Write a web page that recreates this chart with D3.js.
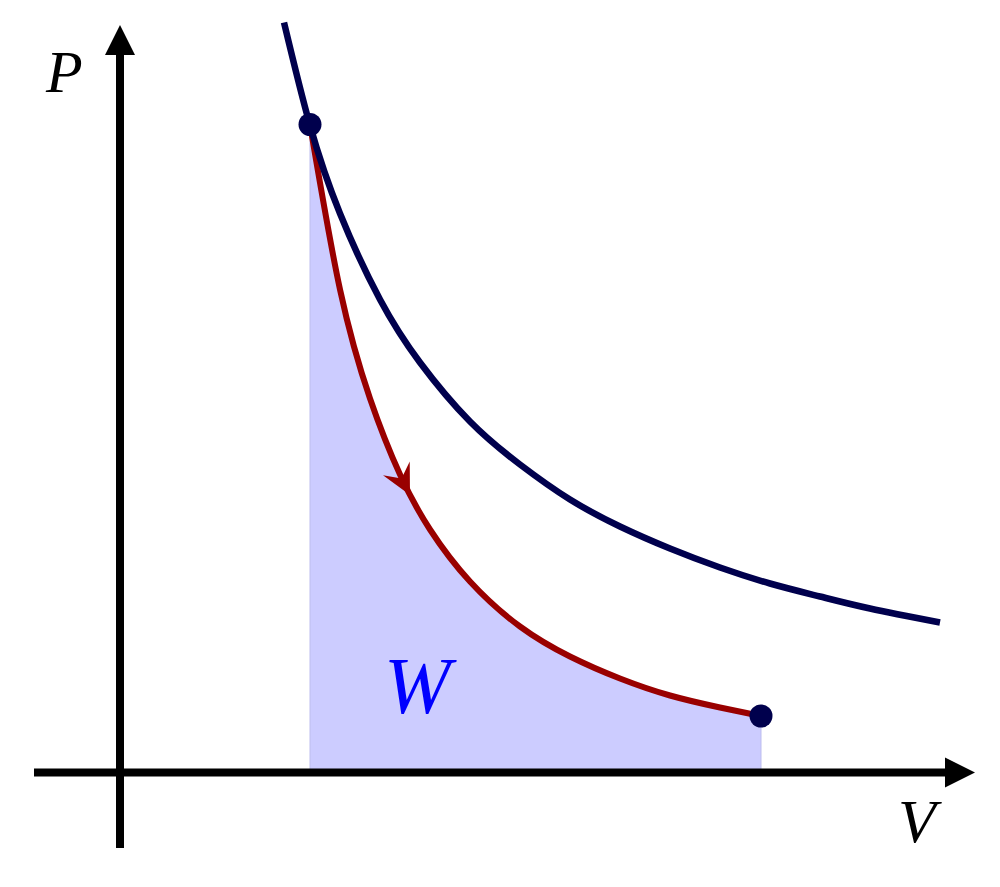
<!DOCTYPE html>
<html>
<head>
<meta charset="utf-8">
<script src="https://cdn.jsdelivr.net/npm/d3@7"></script>
<style>
  html, body { margin: 0; padding: 0; background: #ffffff; }
  svg { display: block; }
</style>
</head>
<body>
<script>
const w = 1000;
const h = 887;

// isotherm (dark blue)
const isoV = [1.64, 1.9, 2.2, 2.6, 3.0, 3.5, 4.0, 4.5, 5.0, 5.5, 6.0, 6.5, 7.0, 7.5, 8.2];
const isoP = [7.5, 6.47, 5.59, 4.73, 4.10, 3.51, 3.08, 2.73, 2.46, 2.24, 2.05, 1.89, 1.76, 1.64, 1.50];

// adiabat (red), from state A to state B
const adV = [1.9, 2.2, 2.5, 2.8, 3.1, 3.5, 4.0, 4.5, 5.0, 5.5, 6.0, 6.41];
const adP = [6.48, 4.83, 3.74, 2.98, 2.43, 1.91, 1.46, 1.16, 0.94, 0.77, 0.65, 0.565];

const stateV = [1.9, 6.41];
const stateP = [6.48, 0.565];

const arrowV = 2.9;

const col = {
  iso: "#00004d",
  ad: "#990000",
  fill: "#ccccff",
  work: "#0000ff",
  axis: "#000000"
};

const x = d3.scaleLinear().domain([-0.86, 8.55]).range([34, 975]);
const y = d3.scaleLinear().domain([-0.755, 7.475]).range([848, 25]);

const svg = d3.select("body").append("svg")
  .attr("width", w).attr("height", h);

const iso = isoV.map((v, i) => [v, isoP[i]]);
const ad = adV.map((v, i) => [v, adP[i]]);

const line = d3.line()
  .x(d => x(d[0])).y(d => y(d[1]))
  .curve(d3.curveNatural);

const area = d3.area()
  .x(d => x(d[0])).y0(y(0.03)).y1(d => y(d[1]))
  .curve(d3.curveNatural);

// work area
svg.append("path")
  .attr("d", area(ad))
  .attr("fill", col.fill)
  .attr("stroke", "#bdbdee")
  .attr("stroke-width", 1);

// adiabat
const adPath = svg.append("path")
  .attr("d", line(ad))
  .attr("fill", "none")
  .attr("stroke", col.ad)
  .attr("stroke-width", 6);

// arrow head on the adiabat
{
  const node = adPath.node();
  const total = node.getTotalLength();
  let lo = 0, hi = total;
  const tx = x(arrowV);
  for (let k = 0; k < 40; k++) {
    const mid = (lo + hi) / 2;
    if (node.getPointAtLength(mid).x < tx) lo = mid; else hi = mid;
  }
  const p = node.getPointAtLength(lo);
  const q = node.getPointAtLength(Math.max(0, lo - 4));
  const ang = Math.atan2(p.y - q.y, p.x - q.x) * 180 / Math.PI;
  const L = 30, hw = 15;
  svg.append("path")
    .attr("d", `M0,0 L${-L},${-hw} L${-L * 0.62},0 L${-L},${hw} Z`)
    .attr("transform", `translate(${p.x},${p.y}) rotate(${ang})`)
    .attr("fill", col.ad);
}

// isotherm
svg.append("path")
  .attr("d", line(iso))
  .attr("fill", "none")
  .attr("stroke", col.iso)
  .attr("stroke-width", 6.5);

// axes
const axes = svg.append("g");
axes.append("line")
  .attr("x1", x(-0.86)).attr("x2", x(8.3))
  .attr("y1", y(0)).attr("y2", y(0))
  .attr("stroke", col.axis).attr("stroke-width", 8);
axes.append("path")
  .attr("d", `M${x(8.55)},${y(0)} L${x(8.25)},${y(0) - 15} L${x(8.25)},${y(0) + 15} Z`)
  .attr("fill", col.axis);
axes.append("line")
  .attr("x1", x(0)).attr("x2", x(0))
  .attr("y1", y(-0.755)).attr("y2", y(7.2))
  .attr("stroke", col.axis).attr("stroke-width", 8);
axes.append("path")
  .attr("d", `M${x(0)},${y(7.475)} L${x(0) - 15},${y(7.175)} L${x(0) + 15},${y(7.175)} Z`)
  .attr("fill", col.axis);

// states
svg.selectAll("circle.state")
  .data(stateV.map((v, i) => [v, stateP[i]]))
  .join("circle")
  .attr("class", "state")
  .attr("cx", d => x(d[0]))
  .attr("cy", d => y(d[1]))
  .attr("r", 11.5)
  .attr("fill", col.iso);

// labels
const serif = "'Liberation Serif', 'DejaVu Serif', serif";
svg.append("text").text("P")
  .attr("x", 46).attr("y", 92)
  .style("font-family", serif).style("font-style", "italic")
  .attr("font-size", 60).attr("fill", "#000");
svg.append("text").text("V")
  .attr("x", 898).attr("y", 842)
  .style("font-family", serif).style("font-style", "italic")
  .attr("font-size", 62).attr("fill", "#000");
svg.append("text").text("W")
  .attr("x", 384).attr("y", 713)
  .style("font-family", serif).style("font-style", "italic")
  .attr("font-size", 80).attr("fill", col.work);
</script>
</body>
</html>
